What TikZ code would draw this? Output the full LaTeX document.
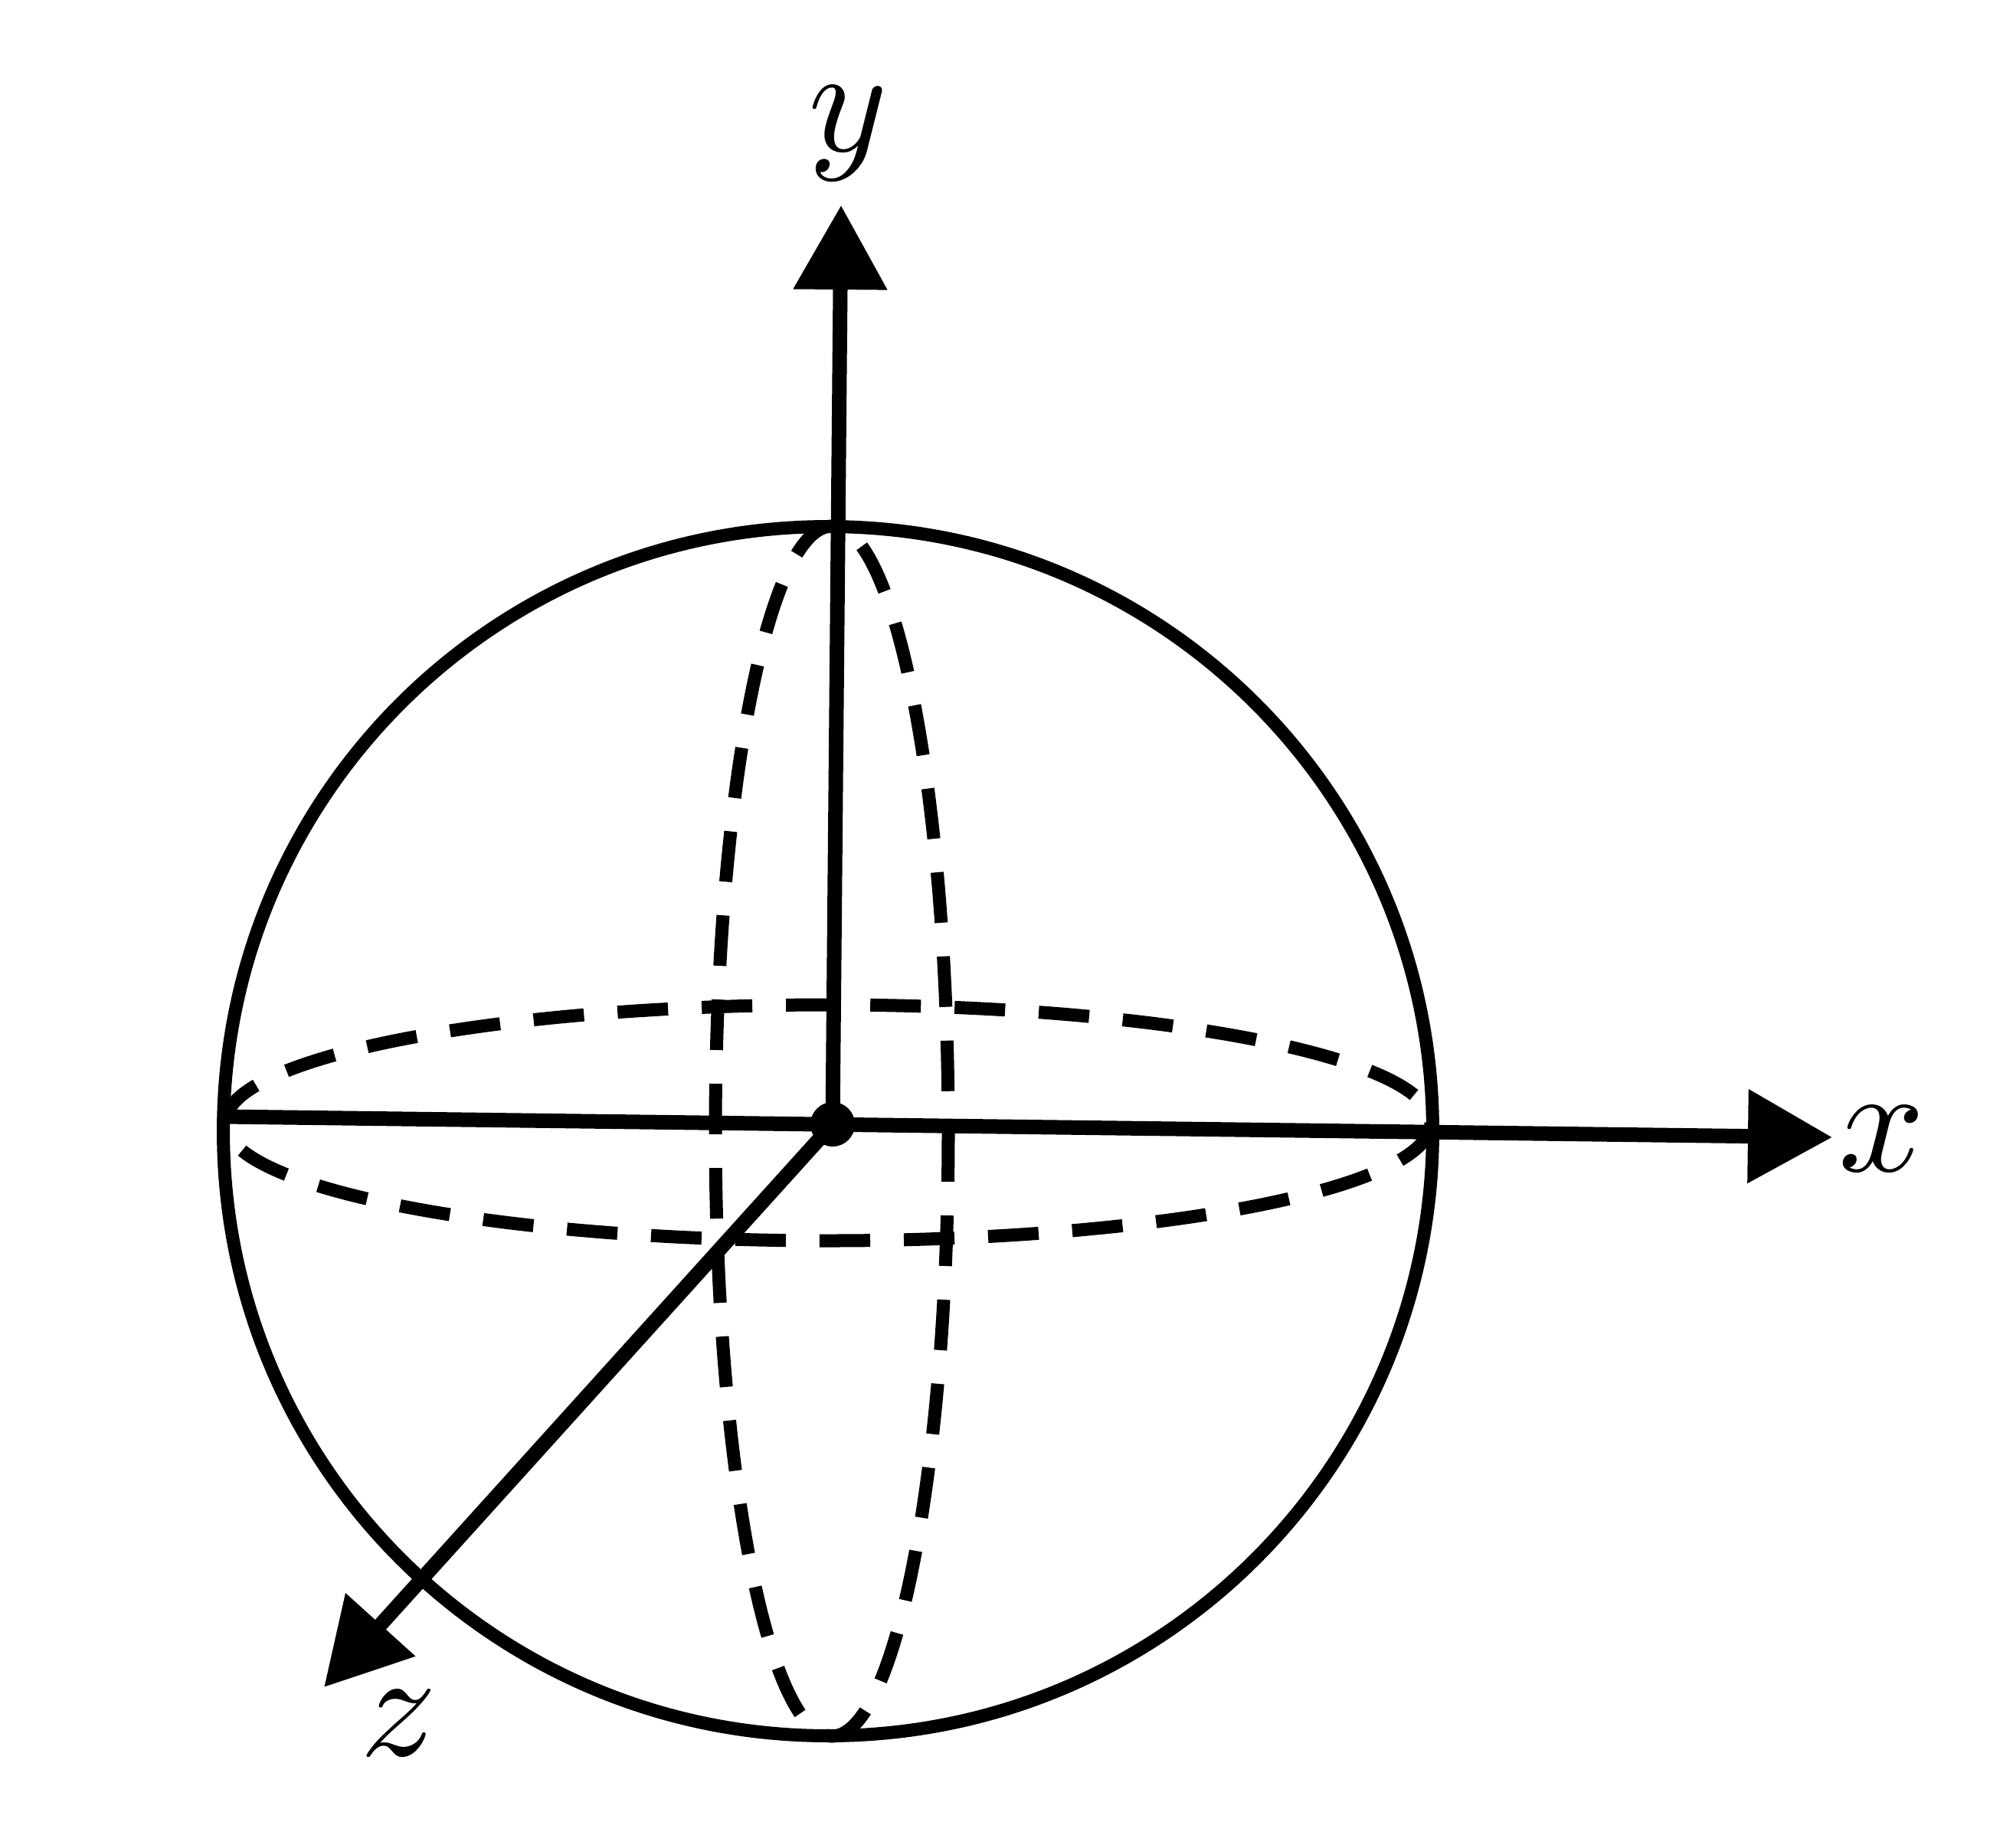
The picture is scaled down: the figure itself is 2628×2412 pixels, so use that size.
\documentclass[tikz,border=0pt]{standalone}
\usetikzlibrary{arrows.meta}
\tikzset{
  axis/.style={line width=0.19cm, -{Triangle[length=1.1cm, width=1.18cm]}},
  shell/.style={line width=0.17cm},
  hidden/.style={line width=0.17cm, dash pattern=on 0.66cm off 0.44cm},
  axlabel/.style={inner sep=0pt, scale=5.6},
}
\begin{document}
\begin{tikzpicture}[x=0.01cm, y=-0.01cm]
  \useasboundingbox (0,0) rectangle (2628,2412);
  %sphere and the two hidden great circles
  \node[circle, draw, shell, minimum size=15.78cm, inner sep=0pt, outer sep=0pt] (sphere) at (1081,1477) {};
  \draw[hidden] (1081,1466) ellipse [x radius=787, y radius=154];
  \draw[hidden] (1086,1477) ellipse [x radius=152, y radius=790];
  %axes
  \node[circle, fill, minimum size=0.58cm, inner sep=0pt] (O) at (1087,1468) {};
  \coordinate (xstart) at (293,1458);
  \coordinate (xtip) at (2392,1485);
  \coordinate (ytip) at (1098,268);
  \coordinate (ztip) at (423,2203);
  \draw[axis] (xstart) -- (xtip);
  \draw[axis] (O.center) -- (ytip);
  \draw[axis] (O.center) -- (ztip);
  \node[axlabel] (xlab) at (2457,1487) {$x$};
  \node[axlabel] (ylab) at (1107,174) {$y$};
  \node[axlabel] (zlab) at (521,2250) {$z$};
\end{tikzpicture}
\end{document}
